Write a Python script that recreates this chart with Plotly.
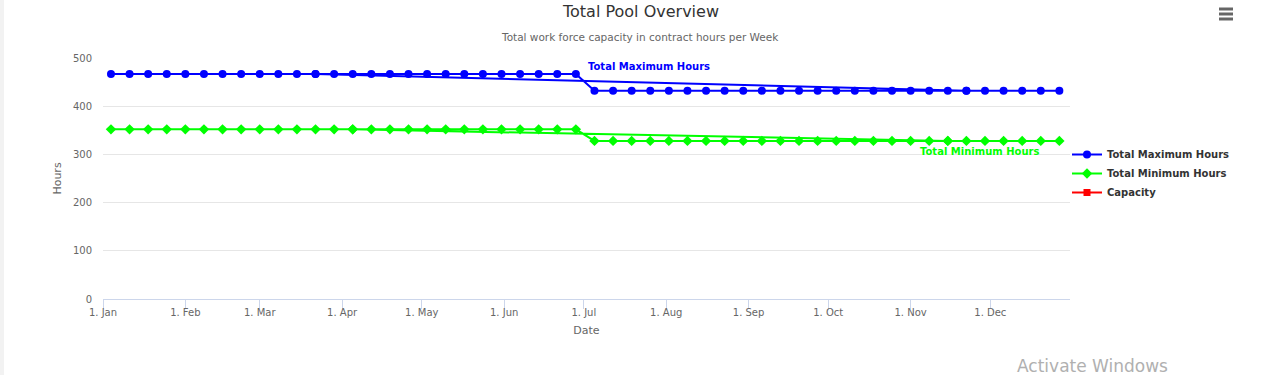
import plotly.graph_objects as go
import pandas as pd

# ---- data ----
week_dates = pd.date_range("2021-01-04", periods=52, freq="7D")
max_hours = [467, 467, 467, 467, 467, 467, 467, 467, 467, 467, 467, 467, 467,
             467, 467, 467, 467, 467, 467, 467, 467, 467, 467, 467, 467, 467,
             432, 432, 432, 432, 432, 432, 432, 432, 432, 432, 432, 432, 432,
             432, 432, 432, 432, 432, 432, 432, 432, 432, 432, 432, 432, 432]
min_hours = [352, 352, 352, 352, 352, 352, 352, 352, 352, 352, 352, 352, 352,
             352, 352, 352, 352, 352, 352, 352, 352, 352, 352, 352, 352, 352,
             328, 328, 328, 328, 328, 328, 328, 328, 328, 328, 328, 328, 328,
             328, 328, 328, 328, 328, 328, 328, 328, 328, 328, 328, 328, 328]
# unsorted trailing points in the source data (drawn in data order)
max_tail_dates = ["2021-11-22", "2021-03-22"]
max_tail_values = [432, 467]
min_tail_dates = ["2021-11-15", "2021-04-05"]
min_tail_values = [328, 352]

month_ticks = pd.date_range("2021-01-01", periods=12, freq="MS")
month_labels = ["1. Jan", "1. Feb", "1. Mar", "1. Apr", "1. May", "1. Jun",
                "1. Jul", "1. Aug", "1. Sep", "1. Oct", "1. Nov", "1. Dec"]

FONT = "DejaVu Sans"
BLUE = "#0000ff"
GREEN = "#00ff00"
RED = "#ff0000"

max_x = list(week_dates) + [pd.Timestamp(d) for d in max_tail_dates]
max_y = max_hours + max_tail_values
min_x = list(week_dates) + [pd.Timestamp(d) for d in min_tail_dates]
min_y = min_hours + min_tail_values

fig = go.Figure()
fig.add_trace(go.Scatter(
    x=max_x, y=max_y, mode="lines+markers", name="Total Maximum Hours",
    line=dict(color=BLUE, width=2), marker=dict(symbol="circle", size=8, color=BLUE),
))
fig.add_trace(go.Scatter(
    x=min_x, y=min_y, mode="lines+markers", name="Total Minimum Hours",
    line=dict(color=GREEN, width=2), marker=dict(symbol="diamond", size=8, color=GREEN),
))
fig.add_trace(go.Scatter(
    x=[None], y=[None], mode="lines+markers", name="Capacity",
    line=dict(color=RED, width=2), marker=dict(symbol="square", size=7, color=RED),
))

# series labels
fig.add_annotation(x=week_dates[25], y=max_hours[25], text="<b>Total Maximum Hours</b>",
                   showarrow=False, xanchor="left", yanchor="middle", xshift=10, yshift=7,
                   font=dict(family=FONT, size=10, color=BLUE))
fig.add_annotation(x=week_dates[48], y=min_hours[48], text="<b>Total Minimum Hours</b>",
                   showarrow=False, xanchor="center", yanchor="middle", xshift=-24, yshift=-11,
                   font=dict(family=FONT, size=10, color=GREEN))

W, H = 1288, 375
L, R, T, B = 103, 1070, 58, 299

def px_x(p):
    return (p - L) / (R - L)

def px_y(p):
    return (B - p) / (B - T)

# hamburger menu icon
for yy in (9, 14, 19):
    fig.add_shape(type="line", xref="paper", yref="paper",
                  x0=px_x(1219), x1=px_x(1233), y0=px_y(yy), y1=px_y(yy),
                  line=dict(color="#666666", width=3))

# left page strip
fig.add_shape(type="rect", xref="paper", yref="paper",
              x0=px_x(0), x1=px_x(4), y0=px_y(375), y1=px_y(0),
              fillcolor="#f2f2f2", line=dict(width=0), layer="below")

fig.add_annotation(xref="paper", yref="paper", x=px_x(1015), y=px_y(366),
                   text="Activate Windows", showarrow=False, xanchor="left", yanchor="middle",
                   font=dict(family=FONT, size=17, color="#b0b0b0"))

# title and subtitle
fig.add_annotation(xref="paper", yref="paper", x=px_x(640), y=px_y(11),
                   text="Total Pool Overview", showarrow=False,
                   xanchor="center", yanchor="middle",
                   font=dict(family=FONT, size=16, color="#333333"))
fig.add_annotation(xref="paper", yref="paper", x=px_x(640), y=px_y(37),
                   text="Total work force capacity in contract hours per Week",
                   showarrow=False, xanchor="center", yanchor="middle",
                   font=dict(family=FONT, size=10.5, color="#666666"))

fig.update_layout(
    width=W, height=H,
    margin=dict(l=L, r=W - R, t=T, b=H - B),
    paper_bgcolor="white", plot_bgcolor="white",
    font=dict(family=FONT, color="#666666", size=10),
    legend=dict(x=px_x(1067), y=px_y(140), xanchor="left", yanchor="top",
                font=dict(family=FONT, size=10, color="#333333", weight="bold"),
                itemwidth=30, tracegroupgap=0, bgcolor="rgba(0,0,0,0)"),
    showlegend=True,
)

fig.update_xaxes(
    range=[pd.Timestamp("2021-01-01"), pd.Timestamp("2021-12-31")],
    tickvals=list(month_ticks), ticktext=month_labels,
    showgrid=False, showline=True, linecolor="#ccd6eb", linewidth=1,
    ticks="outside", ticklen=9, tickcolor="#ccd6eb",
    tickfont=dict(family=FONT, size=10, color="#666666"), ticklabelstandoff=-5,
    title=dict(text="Date", font=dict(family=FONT, size=11, color="#666666"), standoff=9),
    zeroline=False,
)
fig.update_yaxes(
    range=[0, 500], tickvals=[0, 100, 200, 300, 400, 500],
    showgrid=True, gridcolor="#e6e6e6", gridwidth=1, showline=False, zeroline=False,
    tickfont=dict(family=FONT, size=10, color="#666666"), ticklabelstandoff=10,
    title=dict(text="Hours", font=dict(family=FONT, size=11, color="#666666"), standoff=9),
)

fig.write_html("out.html", config={"displayModeBar": False},
               post_script="document.body.style.margin='0';document.body.style.overflow='hidden';")
